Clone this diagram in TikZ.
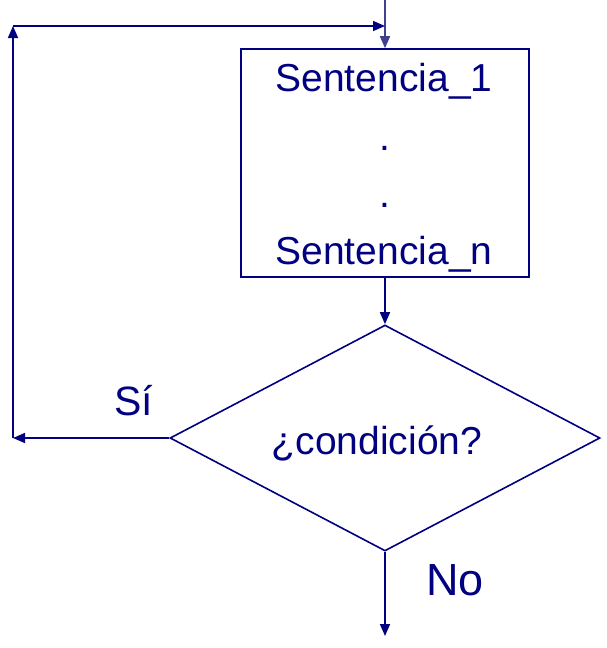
\documentclass[tikz,border=0pt]{standalone}
\usepackage{fontspec}
\setmainfont{Liberation Sans}
\usetikzlibrary{arrows.meta,shapes.geometric}
\definecolor{navy}{HTML}{000080}
\definecolor{greynavy}{HTML}{40408C}
\tikzset{
  flow/.style={draw=navy,line width=1.6pt,-{Triangle[length=12pt,width=10pt]},color=navy},
  txt/.style={text=navy,inner sep=0pt,font=\fontsize{39}{44}\selectfont,anchor=base},
  boxshape/.style={draw=navy,line width=1.6pt,rectangle,minimum width=288pt,minimum height=228pt,inner sep=0pt},
  diashape/.style={draw=navy,line width=1.6pt,diamond,minimum width=430pt,minimum height=226pt,inner sep=0pt,text=navy,font=\fontsize{39}{44}\selectfont}
}
\begin{document}
\begin{tikzpicture}[x=1pt,y=-1pt]
\useasboundingbox (0,0) rectangle (607,648);
\node[boxshape] (box) at (385,163) {};
\node[txt] (s1) at (384,91) {Sentencia\_1};
\node[txt] (d1) at (385,150) {.};
\node[txt] (d2) at (385,207) {.};
\node[txt] (sn) at (384,264) {Sentencia\_n};
\node[diashape] (cond) at (385,438) {};
\node[txt] (ctext) at (377,454) {¿condición?};
\coordinate (top) at (385,0);
\coordinate (bl) at (13,438);
\coordinate (tl) at (13,26);
\coordinate (join) at (385,26);
\coordinate (end) at (385,636);
\draw[flow,draw=greynavy,color=greynavy] (top) -- (box.north);
\draw[flow] (box.south) -- (cond.north);
\draw[flow] (cond.west) -- (bl);
\draw[flow] (bl) -- (tl);
\draw[flow] (tl) -- (join);
\draw[flow] (cond.south) -- (end);
\node[txt,font=\fontsize{41}{46}\selectfont] (si) at (134,415) {Sí};
\node[txt,font=\fontsize{45}{50}\selectfont] (no) at (455,595) {No};
\end{tikzpicture}
\end{document}
